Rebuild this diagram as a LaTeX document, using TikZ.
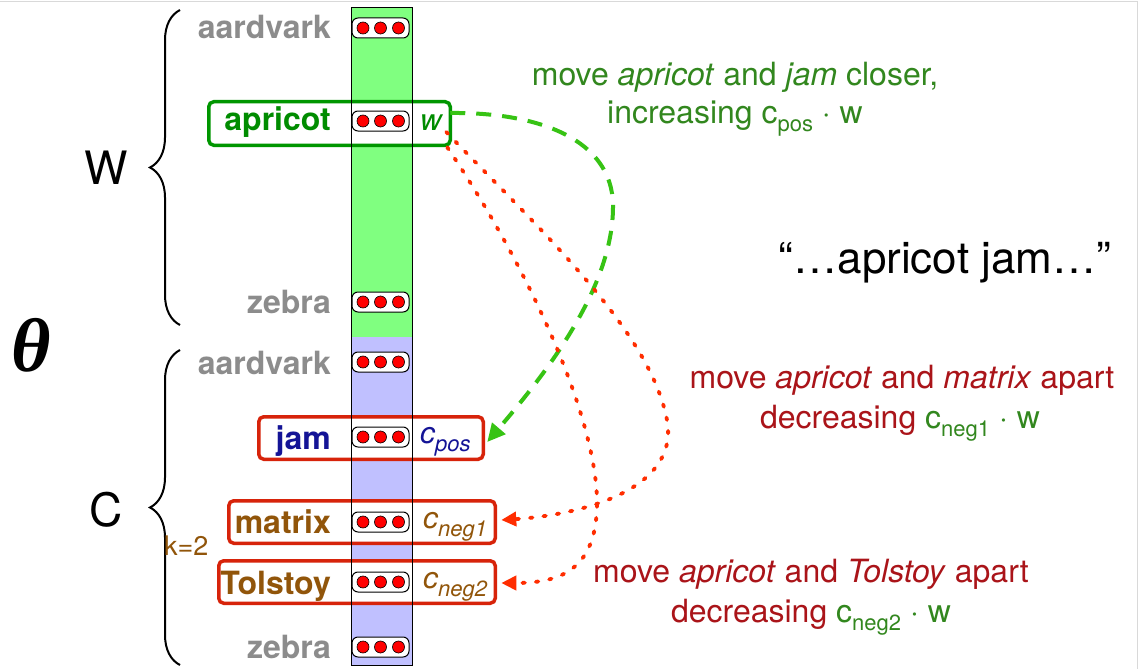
\documentclass[tikz,border=0pt]{standalone}
\usepackage{fontspec}
\setmainfont{TeX Gyre Heros}
\newfontfamily\thetafont{Liberation Serif}
\usetikzlibrary{decorations.pathreplacing,arrows.meta}
\definecolor{colgreen}{RGB}{128,255,128}
\definecolor{collav}{RGB}{192,192,255}
\definecolor{boxgreen}{RGB}{0,150,0}
\definecolor{labgreen}{RGB}{0,140,0}
\definecolor{txtgreen}{RGB}{50,135,30}
\definecolor{boxred}{RGB}{215,35,10}
\definecolor{dotred}{RGB}{255,45,0}
\definecolor{txtred}{RGB}{170,20,25}
\definecolor{wbrown}{RGB}{145,85,10}
\definecolor{wblue}{RGB}{20,20,150}
\definecolor{wgray}{RGB}{140,140,140}
\definecolor{arrgreen}{RGB}{55,195,20}
\newcommand\fsz[1]{\fontsize{#1}{#1}\selectfont}
\newcommand\lowsub[1]{\raisebox{-8pt}{\fsz{22}#1}}
\tikzset{
  wordbox/.style={draw, fill=white, line width=3.5pt, rounded corners=5pt, inner sep=0pt, outer sep=0pt},
  pillbox/.style={draw=black, fill=white, line width=1pt, rounded corners=6pt, minimum width=57pt, minimum height=20pt, inner sep=0pt},
  wlab/.style={anchor=base east, font=\fsz{32}\bfseries, inner sep=0pt},
  vlab/.style={anchor=base west, font=\fsz{30}\itshape, inner sep=0pt},
  bigtxt/.style={anchor=base, font=\fsz{32}, inner sep=0pt},
  posarrow/.style={draw=arrgreen, line width=4pt, dash pattern=on 15pt off 11pt, -{Triangle[length=18pt,width=17pt]}},
  negarrow/.style={draw=dotred, line width=3.8pt, line cap=round, dash pattern=on 2.5pt off 11pt, -{Triangle[length=15pt,width=14pt]}},
  bracestyle/.style={decorate, decoration={brace, amplitude=30pt}, line width=2pt}
}
\newcommand\vecpill[2]{%
  \node[pillbox] (#1) at (380.5,#2) {};
  \foreach \dx in {-17.5,0,18}{\filldraw[fill=red, draw=black, line width=0.6pt] (380.5+\dx,#2) circle[radius=6pt];}%
}
\begin{document}
\begin{tikzpicture}[x=1pt,y=-1pt]
\useasboundingbox (0,0) rectangle (1144,669);
\fill[white] (0,0) rectangle (1144,669);
\draw[black!15, line width=1pt] (0,1.5) -- (1137.5,1.5) -- (1137.5,669);
% column
\fill[colgreen] (351,8) rectangle (412,337);
\fill[collav] (351,337) rectangle (412,665);
% word boxes
\node[wordbox, draw=boxgreen, minimum width=241.5pt, minimum height=43.5pt] (apricotbox) at (329.5,123.5) {};
\node[wordbox, draw=boxred, minimum width=224.5pt, minimum height=42.5pt] (jambox) at (371,438) {};
\node[wordbox, draw=boxred, minimum width=266.5pt, minimum height=42.5pt] (matrixbox) at (362,522) {};
\node[wordbox, draw=boxred, minimum width=276.5pt, minimum height=42.5pt] (tolstoybox) at (357,582) {};
\draw[black, line width=1pt] (351,8) rectangle (412,665);
% pills
\vecpill{pa}{28}
\vecpill{pb}{121}
\vecpill{pc}{302}
\vecpill{pd}{362}
\vecpill{pe}{437}
\vecpill{pf}{522}
\vecpill{pg}{582}
\vecpill{ph}{647}
% word labels
\node[wlab, text=wgray] (w1) at (331,39) {aardvark};
\node[wlab, text=labgreen] (w2) at (331,131) {apricot};
\node[wlab, text=wgray] (w3) at (331,313) {zebra};
\node[wlab, text=wgray] (w4) at (331,374) {aardvark};
\node[wlab, text=wblue] (w5) at (331,449) {jam};
\node[wlab, text=wbrown] (w6) at (331,533) {matrix};
\node[wlab, text=wbrown] (w7) at (331,594) {Tolstoy};
\node[wlab, text=wgray] (w8) at (331,658) {zebra};
% vector names
\node[vlab, text=labgreen] (vw) at (420,131) {w};
\node[vlab, text=wblue] (vpos) at (420,443) {c\lowsub{pos}};
\node[vlab, text=wbrown] (vneg1) at (423,528) {c\lowsub{neg1}};
\node[vlab, text=wbrown] (vneg2) at (423,588) {c\lowsub{neg2}};
% braces
\coordinate (wtop) at (180,10);
\coordinate (wbot) at (180,325);
\coordinate (ctop) at (180,350);
\coordinate (cbot) at (180,665);
\draw[bracestyle] (wbot) -- (wtop);
\draw[bracestyle] (cbot) -- (ctop);
\node[font=\fsz{46}, inner sep=0pt] (Wlab) at (106,168) {W};
\node[font=\fsz{46}, inner sep=0pt] (Clab) at (106,510) {C};
\node[font=\fsz{76}\thetafont\bfseries\itshape, inner sep=0pt] (theta) at (31,345) {θ};
\node[anchor=west, font=\fsz{27}, text=wbrown, inner sep=0pt] (k) at (164,546) {k=2};
% arrows
\draw[posarrow] ([shift={(0,-10.5)}]apricotbox.east) .. controls (540,112) and (612,140) .. (613,205)
   .. controls (614,290) and (540,380) .. ([shift={(4,4)}]jambox.east);
\draw[negarrow] ([shift={(-4,8.5)}]apricotbox.east) .. controls (540,230) and (650,330) .. (667,420)
   .. controls (680,490) and (580,515) .. ([shift={(6,-2)}]matrixbox.east);
\draw[negarrow] ([shift={(-3,2)}]apricotbox.south east) .. controls (530,270) and (598,420) .. (597,505)
   .. controls (596,570) and (560,583) .. ([shift={(6,1)}]tolstoybox.east);
% texts
\node[bigtxt, text=txtgreen] (t1) at (735,85) {move \textit{apricot} and \textit{jam} closer,};
\node[bigtxt, text=txtgreen] (t2) at (735,124) {increasing c\lowsub{pos} · w};
\node[anchor=base, font=\fsz{44}, inner sep=0pt] (quote) at (945,273) {“…apricot jam…”};
\node[bigtxt, text=txtred] (t3) at (902,388) {move \textit{apricot} and \textit{matrix} apart};
\node[bigtxt, text=txtred] (t4) at (900,428) {decreasing {\color{txtgreen}c\lowsub{neg1} · w}};
\node[bigtxt, text=txtred] (t5) at (811,582) {move \textit{apricot} and \textit{Tolstoy} apart};
\node[bigtxt, text=txtred] (t6) at (811,622) {decreasing {\color{txtgreen}c\lowsub{neg2} · w}};
\end{tikzpicture}
\end{document}
